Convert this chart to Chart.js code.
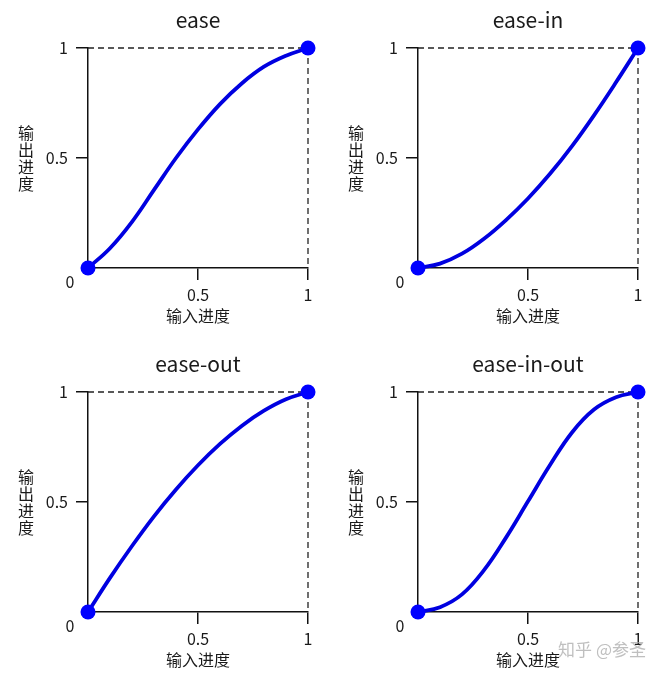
<!DOCTYPE html>
<html>
<head>
<meta charset="utf-8">
<script src="https://cdn.jsdelivr.net/npm/chart.js@4.4.1/dist/chart.umd.min.js"></script>
<style>
  html, body { margin: 0; padding: 0; background: #fff; width: 655px; height: 677px; overflow: hidden; }
  .cell { position: absolute; width: 325px; height: 338px; }
</style>
</head>
<body>
<div class="cell" style="left:0;top:0"><canvas id="c0" width="325" height="338"></canvas></div>
<div class="cell" style="left:330px;top:0"><canvas id="c1" width="325" height="338"></canvas></div>
<div class="cell" style="left:0;top:344px"><canvas id="c2" width="325" height="338"></canvas></div>
<div class="cell" style="left:330px;top:344px"><canvas id="c3" width="325" height="338"></canvas></div>
<script>
// input progress samples, shared by all four curves
const xs = [0, 0.1, 0.2, 0.3, 0.4, 0.5, 0.6, 0.7, 0.8, 0.9, 1];

// output progress
const easeY      = [0, 0.09, 0.21, 0.355, 0.50, 0.63, 0.745, 0.84, 0.915, 0.965, 1];
const easeInY    = [0, 0.02, 0.065, 0.133, 0.218, 0.316, 0.428, 0.554, 0.694, 0.844, 1];
const easeOutY   = [0, 0.155, 0.30, 0.435, 0.557, 0.667, 0.764, 0.847, 0.915, 0.967, 1];
const easeInOutY = [0, 0.022, 0.08, 0.19, 0.338, 0.503, 0.668, 0.816, 0.92, 0.976, 1];

const titles = ['ease', 'ease-in', 'ease-out', 'ease-in-out'];
const curves = [easeY, easeInY, easeOutY, easeInOutY];

const xTicks = [0.5, 1];
const yTicks = [0.5, 1];
const cornerLabel = '0';
const xTitle = '输入进度';
const yTitle = '输出进度';
const watermark = '知乎 @参圣';

const FONT = '"Noto Sans CJK SC", "Noto Sans", sans-serif';
const INK = '#1a1a1a';

// title, stacked y label, corner "0" and the watermark
const decor = {
  id: 'decor',
  afterDraw(chart, args, opts) {
    const { ctx, chartArea: a } = chart;
    ctx.save();
    ctx.fillStyle = INK;
    ctx.textAlign = 'center';
    ctx.textBaseline = 'middle';
    ctx.font = '21px ' + FONT;
    ctx.fillText(opts.title, (a.left + a.right) / 2, a.top - 28);

    ctx.font = '16px ' + FONT;
    const mid = (a.top + a.bottom) / 2;
    const chars = yTitle.split('');
    chars.forEach((ch, i) => {
      ctx.fillText(ch, 26, mid + (i - (chars.length - 1) / 2) * 17);
    });
    ctx.fillText(cornerLabel, a.left - 18, a.bottom + 14);

    if (opts.mark) {
      ctx.font = '17px ' + FONT;
      ctx.fillStyle = 'rgba(170,170,170,0.75)';
      ctx.textAlign = 'right';
      ctx.fillText(watermark, a.right + 8, a.bottom + 38);
    }
    ctx.restore();
  }
};

function makeChart(id, idx) {
  const ys = curves[idx];
  const pts = xs.map((x, i) => ({ x: x, y: ys[i] }));
  const ends = [pts[0], pts[pts.length - 1]];
  const guide = [{ x: xs[0], y: 1 }, { x: 1, y: 1 }, { x: 1, y: 0 }];

  new Chart(document.getElementById(id), {
    type: 'line',
    data: {
      datasets: [
        {
          data: ends,
          showLine: false,
          pointRadius: 7.5,
          pointBackgroundColor: '#0000ff',
          pointBorderWidth: 0,
          clip: false
        },
        {
          data: pts,
          borderColor: '#0000e0',
          borderWidth: 3.8,
          pointRadius: 0,
          tension: 0.4,
          clip: false
        },
        {
          data: guide,
          borderColor: '#222',
          borderWidth: 1.3,
          borderDash: [6, 4],
          pointRadius: 0,
          tension: 0,
          clip: false
        }
      ]
    },
    options: {
      responsive: false,
      animation: false,
      events: [],
      layout: { padding: { left: 0, top: 48, right: 17, bottom: 0 } },
      plugins: {
        legend: { display: false },
        tooltip: { enabled: false },
        decor: { title: titles[idx], mark: idx === 3 }
      },
      scales: {
        x: {
          type: 'linear',
          min: 0,
          max: 1,
          afterBuildTicks: s => { s.ticks = xTicks.map(v => ({ value: v })); },
          afterFit: s => { s.height = 70; },
          border: { color: '#111', width: 1.5 },
          grid: { drawOnChartArea: false, tickLength: 12, color: '#111', lineWidth: 1.5 },
          ticks: {
            padding: 5,
            color: INK,
            font: { family: FONT, size: 16 },
            maxRotation: 0,
            callback: v => String(v)
          },
          title: {
            display: true,
            text: xTitle,
            color: INK,
            font: { family: FONT, size: 16 },
            padding: { top: 12, bottom: 12 }
          }
        },
        y: {
          type: 'linear',
          min: 0,
          max: 1,
          afterBuildTicks: s => { s.ticks = yTicks.map(v => ({ value: v })); },
          afterFit: s => { s.width = 88; },
          border: { color: '#111', width: 1.5 },
          grid: { drawOnChartArea: false, tickLength: 12, color: '#111', lineWidth: 1.5 },
          ticks: {
            padding: 8,
            color: INK,
            font: { family: FONT, size: 16 },
            callback: v => String(v)
          }
        }
      }
    },
    plugins: [decor]
  });
}

['c0', 'c1', 'c2', 'c3'].forEach((id, i) => makeChart(id, i));
</script>
</body>
</html>
